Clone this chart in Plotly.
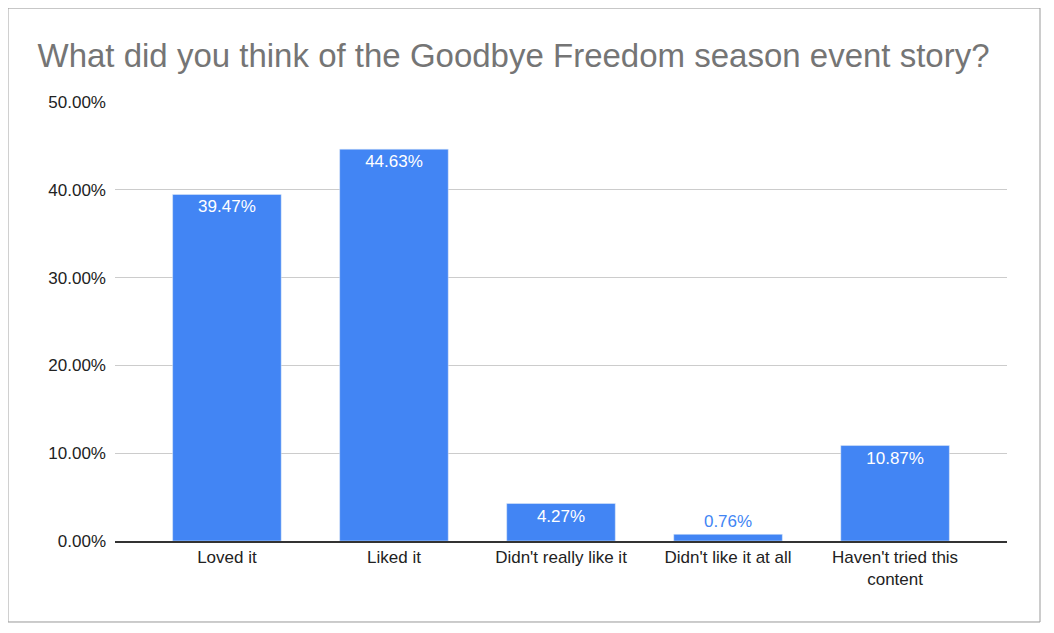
import plotly.graph_objects as go

categories = ["Loved it", "Liked it", "Didn't really like it", "Didn't like it at all", "Haven't tried this<br>content"]
values = [39.47, 44.63, 4.27, 0.76, 10.87]
labels = ["39.47%", "44.63%", "4.27%", "0.76%", "10.87%"]
positions = ["inside", "inside", "inside", "outside", "inside"]
text_colors = ["white", "white", "white", "#4285F4", "white"]

fig = go.Figure(go.Bar(
    x=categories, y=values, text=labels, textposition=positions,
    insidetextanchor="end", marker_color="#4285F4",
    textfont=dict(color=text_colors, size=17, family="Liberation Sans"),
    outsidetextfont=dict(color="#4285F4", size=17, family="Liberation Sans"),
    constraintext="none", cliponaxis=False,
))
fig.update_layout(
    width=1054, height=633, margin=dict(l=107, r=55, t=94, b=100),
    paper_bgcolor="white", plot_bgcolor="white", bargap=0.35,
    font=dict(family="Liberation Sans", size=17, color="#222"),
    title=dict(text="What did you think of the Goodbye Freedom season event story?",
               x=0.028, xanchor="left", y=0.925, yanchor="middle",
               font=dict(size=33, color="#757575", family="Liberation Sans")),
    showlegend=False,
)
fig.update_yaxes(range=[0, 50], tickvals=[0, 10, 20, 30, 40, 50],
                 ticktext=["0.00%", "10.00%", "20.00%", "30.00%", "40.00%", "50.00%"],
                 gridcolor="#cccccc", zeroline=False, ticks="", ticklabelstandoff=8)
fig.update_xaxes(range=[-0.67, 4.67], showline=True, linecolor="#333333", linewidth=1.5,
                 ticks="", tickfont=dict(size=17))
fig.add_shape(type="rect", xref="paper", yref="paper", x0=-0.12, x1=1.037, y0=-0.1845, y1=1.214,
              line=dict(color="#999999", width=1))
fig.write_html("out.html")
